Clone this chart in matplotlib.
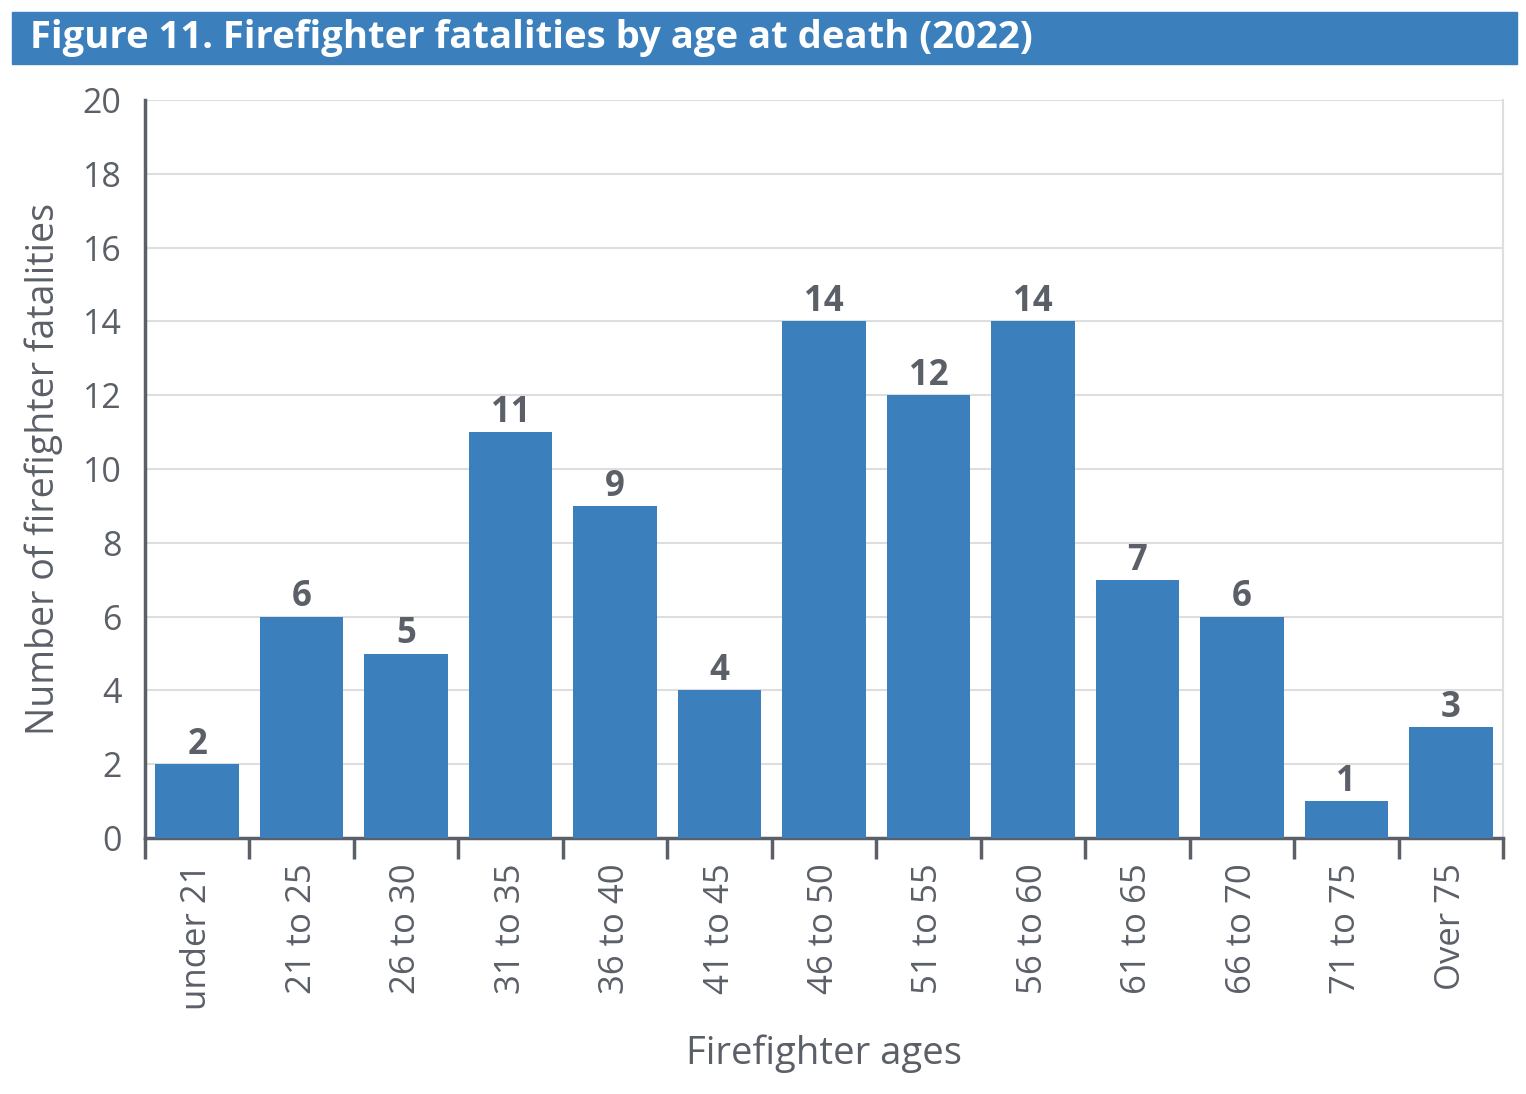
import numpy as np
import matplotlib.pyplot as plt
from matplotlib.patches import Rectangle

# data
age_groups = ["under 21", "21 to 25", "26 to 30", "31 to 35", "36 to 40", "41 to 45",
              "46 to 50", "51 to 55", "56 to 60", "61 to 65", "66 to 70", "71 to 75", "Over 75"]
fatalities = [2, 6, 5, 11, 9, 4, 14, 12, 14, 7, 6, 1, 3]

blue = "#3b80bd"
grey = "#5b6068"

plt.rcParams["font.family"] = ["Open Sans", "DejaVu Sans"]

fig = plt.figure(figsize=(15.26, 10.94), dpi=100)

# title banner
fig.patches.append(Rectangle((12 / 1526, 1 - 64 / 1094), (1517 - 12) / 1526, 52 / 1094,
                             transform=fig.transFigure, color=blue, zorder=0))
fig.text(30 / 1526, 1 - 38 / 1094, "Figure 11. Firefighter fatalities by age at death (2022)",
         color="white", fontsize=27.5, fontweight="bold", va="center", ha="left")

ax = fig.add_axes([145 / 1526, 1 - 838 / 1094, (1503 - 145) / 1526, (838 - 100) / 1094])

x = np.arange(len(age_groups))
bars = ax.bar(x, fatalities, width=0.8, color=blue, zorder=3)
for xi, v in zip(x, fatalities):
    ax.text(xi, v + 0.03, str(v), ha="center", va="bottom", fontsize=25,
            fontweight="bold", color=grey)

ax.set_xlim(-0.5, len(age_groups) - 0.5)
ax.set_ylim(0, 20)
ax.set_yticks(range(0, 21, 2))
ax.grid(axis="y", color="#dedede", linewidth=1.5, zorder=0)

# ticks between bars, labels centered under bars
ax.set_xticks(np.arange(-0.5, len(age_groups), 1.0))
ax.set_xticklabels([])
ax.set_xticks(x, minor=True)
ax.set_xticklabels(age_groups, minor=True, rotation=90, fontsize=25, color=grey)
ax.tick_params(axis="x", which="major", length=15, width=2.5, color=grey, direction="out")
ax.tick_params(axis="x", which="minor", length=0, pad=18)
ax.tick_params(axis="y", length=0, labelsize=24.5, labelcolor=grey, pad=17)

for side in ["left", "bottom"]:
    ax.spines[side].set_color(grey)
    ax.spines[side].set_linewidth(2.5)
ax.spines["top"].set_visible(False)
ax.spines["right"].set_color("#dedede")
ax.spines["right"].set_linewidth(1.5)

ax.set_ylabel("Number of firefighter fatalities", fontsize=27, color=grey, labelpad=14)
ax.set_xlabel("Firefighter ages", fontsize=27.5, color=grey, labelpad=18)

fig.savefig("out.png", dpi=100)
